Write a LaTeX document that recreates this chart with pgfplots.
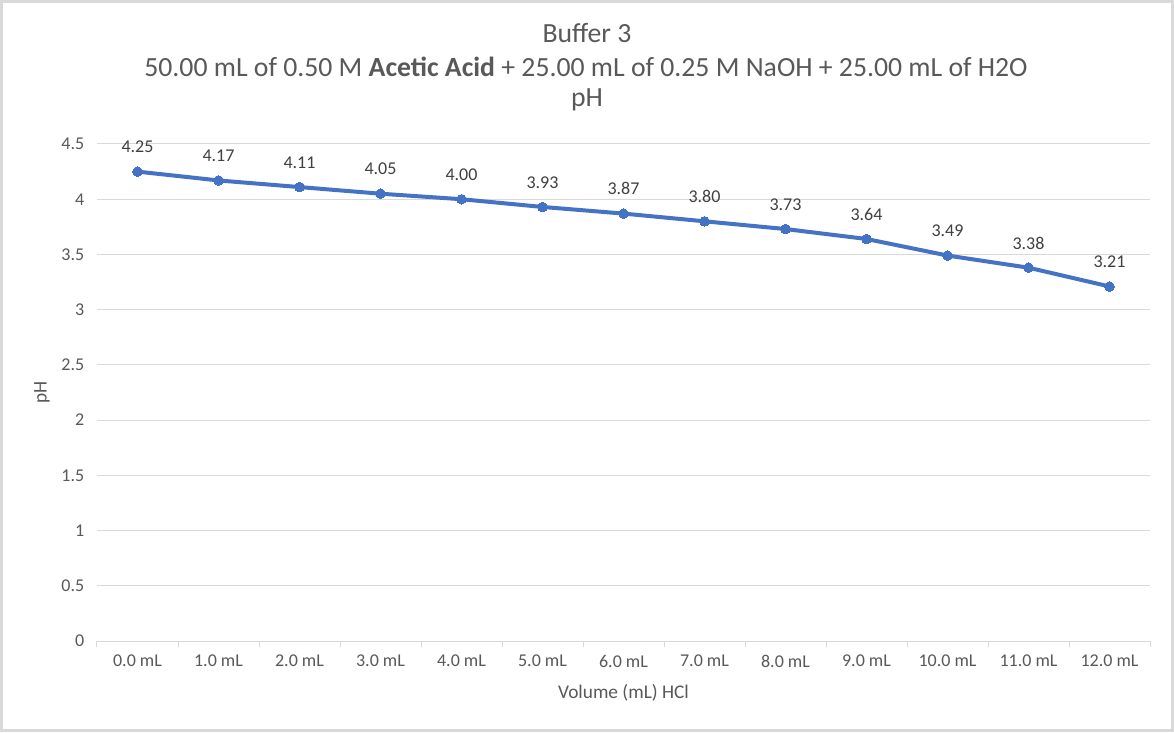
\documentclass[border=0pt]{standalone}
\usepackage{pgfplots}
\pgfplotsset{compat=1.18}
\usepackage{fontspec}
\setmainfont{Carlito}
\definecolor{linecol}{HTML}{4472C4}
\definecolor{gridcol}{HTML}{D9D9D9}
\definecolor{txt}{HTML}{595959}
\definecolor{lbl}{HTML}{404040}
\begin{document}
\begin{tikzpicture}
\fill[white] (0,0) rectangle (880.5pt,549pt);
\draw[gridcol, line width=2.25pt] (1.125pt,1.125pt) rectangle (879.375pt,547.875pt);
\node[text=txt, font=\fontsize{20.8}{23}\selectfont] at (440.25pt,524.25pt) {Buffer 3};
\node[text=txt, font=\fontsize{20.8}{23}\selectfont] at (439.5pt,498.75pt) {50.00 mL of 0.50 M \textbf{Acetic Acid} + 25.00 mL of 0.25 M NaOH + 25.00 mL of H2O};
\node[text=txt, font=\fontsize{20.8}{23}\selectfont] at (440.25pt,474pt) {pH};
\begin{axis}[
  at={(72.75pt,68.25pt)}, anchor=south west,
  scale only axis, width=789.75pt, height=372.75pt,
  xmin=-0.5, xmax=12.5, ymin=0, ymax=4.5,
  clip=false,
  /pgf/number format/assume math mode=true,
  axis x line*=bottom, axis y line*=left,
  x axis line style={draw=gridcol, line width=0.75pt, -},
  y axis line style={draw=none},
  xtick={0,...,12},
  xticklabels={0.0 mL,1.0 mL,2.0 mL,3.0 mL,4.0 mL,5.0 mL,6.0 mL,7.0 mL,8.0 mL,9.0 mL,10.0 mL,11.0 mL,12.0 mL},
  minor xtick={-0.5,0.5,...,12.5},
  ytick={0,0.5,...,4.5},
  yticklabels={0,0.5,1,1.5,2,2.5,3,3.5,4,4.5},
  major tick length=0pt,
  minor tick length=4.5pt,
  tick align=outside,
  minor tick style={draw=gridcol, line width=0.75pt},
  ymajorgrids, grid style={draw=gridcol, line width=0.75pt},
  ticklabel style={text=txt, font=\fontsize{13.5}{15}\selectfont},
  xticklabel style={yshift=-7pt},
  yticklabel style={xshift=-6pt},
  xlabel={Volume (mL) HCl}, ylabel={pH},
  label style={text=txt, font=\fontsize{14.5}{16}\selectfont},
  xlabel style={at={(axis description cs:0.5,0)}, anchor=center, yshift=-38.5pt},
  ylabel style={at={(axis description cs:0,0.5)}, anchor=center, rotate=0, yshift=41.25pt},
  nodes near coords={\pgfmathprintnumber[fixed,fixed zerofill,precision=2]{\pgfplotspointmeta}},
  nodes near coords style={anchor=center, yshift=18.5pt, text=lbl, font=\fontsize{13.5}{15}\selectfont},
]
\addplot[color=linecol, line width=3pt, mark=*, mark size=3.6pt, mark options={fill=linecol, draw=linecol, line width=0pt}]
coordinates {(0,4.25) (1,4.17) (2,4.11) (3,4.05) (4,4.00) (5,3.93) (6,3.87) (7,3.80) (8,3.73) (9,3.64) (10,3.49) (11,3.38) (12,3.21)};
\end{axis}
\end{tikzpicture}
\end{document}
